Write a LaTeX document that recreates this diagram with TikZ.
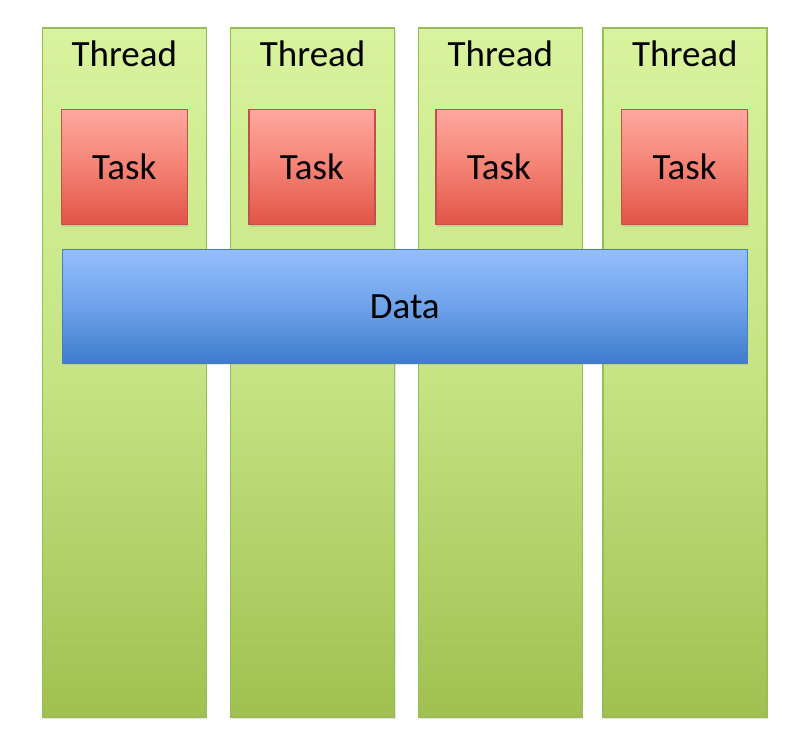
\documentclass[tikz,border=0pt]{standalone}
\usepackage{fontspec}
\setmainfont{Carlito}
\usetikzlibrary{shadows}
\definecolor{thrtop}{RGB}{216,243,157}
\definecolor{thrmid}{RGB}{198,228,132}
\definecolor{thrbot}{RGB}{160,192,80}
\definecolor{thrline}{RGB}{155,187,89}
\definecolor{tsktop}{RGB}{255,168,158}
\definecolor{tskmid}{RGB}{244,130,116}
\definecolor{tskbot}{RGB}{224,84,70}
\definecolor{tskline}{RGB}{192,80,77}
\definecolor{dattop}{RGB}{148,190,255}
\definecolor{datmid}{RGB}{110,162,234}
\definecolor{datbot}{RGB}{62,124,204}
\definecolor{datline}{RGB}{74,126,187}
\begin{document}
\begin{tikzpicture}[x=1pt,y=-1pt,
  thread/.style={draw=thrline, line width=1.2pt, top color=thrtop, bottom color=thrbot, middle color=thrmid,
    minimum width=164pt, minimum height=689pt, anchor=north west, inner sep=0pt,
    drop shadow={opacity=0.2, shadow xshift=1pt, shadow yshift=-2pt}},
  task/.style={draw=tskline, line width=1.2pt, top color=tsktop, bottom color=tskbot, middle color=tskmid,
    minimum width=126pt, minimum height=115pt, anchor=north west, inner sep=0pt,
    drop shadow={opacity=0.2, shadow xshift=1pt, shadow yshift=-2pt}},
  data/.style={draw=datline, line width=1.2pt, top color=dattop, bottom color=datbot, middle color=datmid,
    minimum width=685pt, minimum height=113.5pt, anchor=north west, inner sep=0pt,
    drop shadow={opacity=0.2, shadow xshift=1pt, shadow yshift=-2pt}},
  lbl/.style={font=\fontsize{37}{44}\selectfont, text=black, inner sep=0pt}]
\useasboundingbox (0,0) rectangle (798,750);
\node[thread] (t1) at (41.7,27.3) {};
\node[thread] (t2) at (230,27.3) {};
\node[thread] (t3) at (417.7,27.3) {};
\node[thread] (t4) at (602.3,27.3) {};
\foreach \i in {1,2,3,4} {
  \node[lbl] (tl\i) at ([yshift=-26pt]t\i.north) {Thread};
}
\node[task] (k1) at (60.7,109) {};
\node[task] (k2) at (248.3,109) {};
\node[task] (k3) at (435.3,109) {};
\node[task] (k4) at (621,109) {};
\foreach \i in {1,2,3,4} {
  \node[lbl] (kl\i) at (k\i.center) {Task};
}
\node[data] (d) at (61.7,249) {};
\node[lbl] (dl) at (d.center) {Data};
\end{tikzpicture}
\end{document}
